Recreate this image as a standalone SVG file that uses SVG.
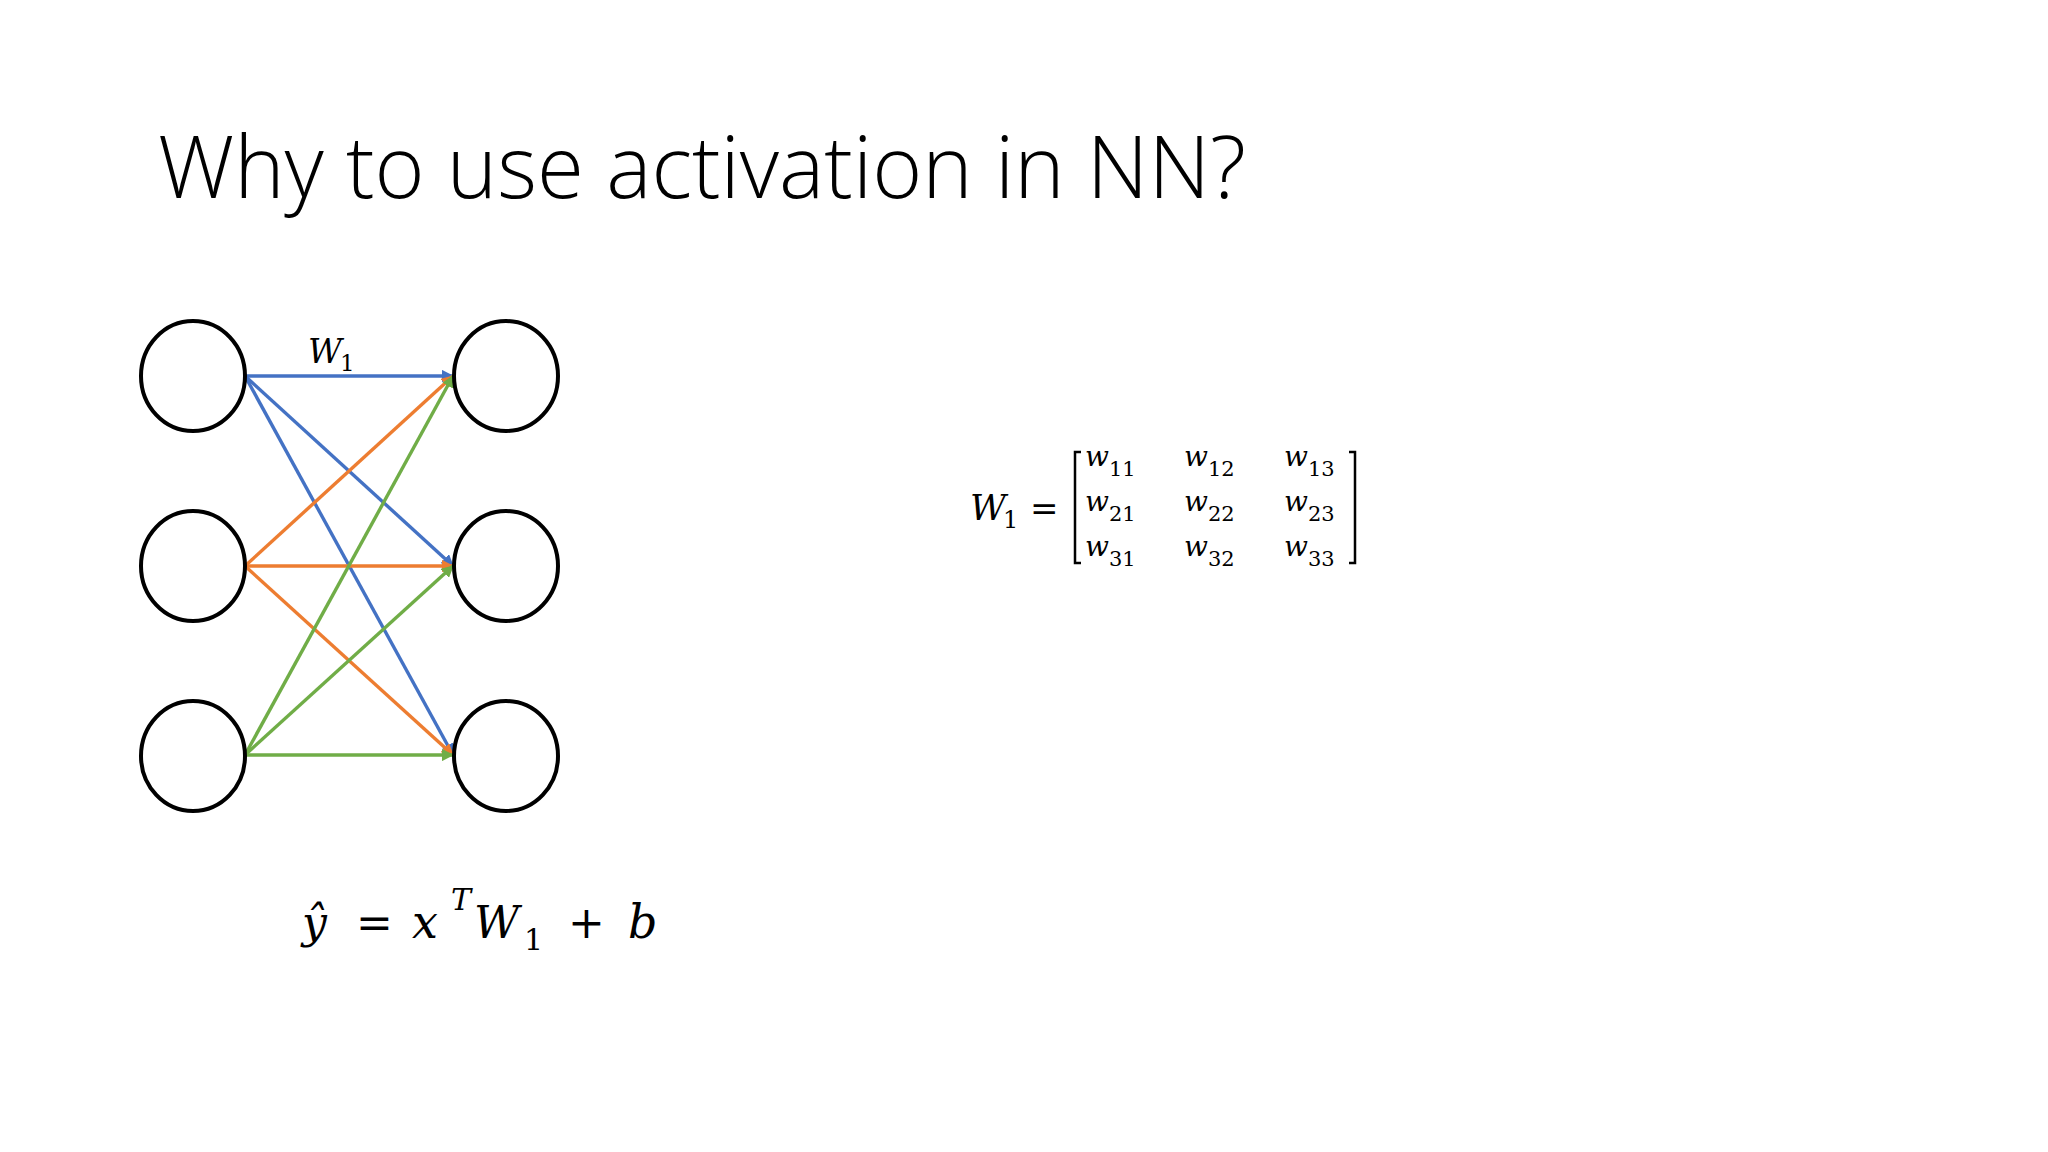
<svg xmlns="http://www.w3.org/2000/svg" width="2048" height="1152" viewBox="0 0 2048 1152">
<style>
.node{fill:none;stroke:#000;stroke-width:4}
.c{fill:none;stroke-width:3.4}
.b{stroke:#4472C4}.o{stroke:#ED7D31}.g{stroke:#70AD47}
.m{font-family:"DejaVu Serif",serif;font-style:italic;fill:#000}
.r{font-family:"DejaVu Serif",serif;font-style:normal;fill:#000}
.s{font-family:"DejaVu Serif",serif;font-size:21px;fill:#000}
.title{font-family:"Open Sans","Liberation Sans",sans-serif;font-weight:300;font-size:86px;fill:#000}
</style>
<defs>
<marker id="ab" viewBox="0 0 10 10" refX="9" refY="5" markerWidth="3.6" markerHeight="3.6" orient="auto" markerUnits="strokeWidth"><path d="M0,0 L10,5 L0,10 z" fill="#4472C4"/></marker>
<marker id="ao" viewBox="0 0 10 10" refX="9" refY="5" markerWidth="3.6" markerHeight="3.6" orient="auto" markerUnits="strokeWidth"><path d="M0,0 L10,5 L0,10 z" fill="#ED7D31"/></marker>
<marker id="ag" viewBox="0 0 10 10" refX="9" refY="5" markerWidth="3.6" markerHeight="3.6" orient="auto" markerUnits="strokeWidth"><path d="M0,0 L10,5 L0,10 z" fill="#70AD47"/></marker>
</defs>
<rect width="2048" height="1152" fill="#fff"/>
<text class="title" x="158" y="198" textLength="1088" lengthAdjust="spacingAndGlyphs">Why to use activation in NN?</text>

<g id="connectors">
<line class="c b" x1="245" y1="376" x2="453" y2="376" marker-end="url(#ab)"/>
<line class="c b" x1="245" y1="376" x2="453" y2="566" marker-end="url(#ab)"/>
<line class="c b" x1="245" y1="376" x2="453" y2="755" marker-end="url(#ab)"/>
<line class="c o" x1="245" y1="566" x2="453" y2="376" marker-end="url(#ao)"/>
<line class="c o" x1="245" y1="566" x2="453" y2="566" marker-end="url(#ao)"/>
<line class="c o" x1="245" y1="566" x2="453" y2="755" marker-end="url(#ao)"/>
<line class="c g" x1="245" y1="755" x2="453" y2="376" marker-end="url(#ag)"/>
<line class="c g" x1="245" y1="755" x2="453" y2="566" marker-end="url(#ag)"/>
<line class="c g" x1="245" y1="755" x2="453" y2="755" marker-end="url(#ag)"/>
</g>

<g id="in1"><ellipse class="node" cx="193" cy="376" rx="52" ry="55"/></g>
<g id="in2"><ellipse class="node" cx="193" cy="566" rx="52" ry="55"/></g>
<g id="in3"><ellipse class="node" cx="193" cy="756" rx="52" ry="55"/></g>
<g id="out1"><ellipse class="node" cx="506" cy="376" rx="52" ry="55"/></g>
<g id="out2"><ellipse class="node" cx="506" cy="566" rx="52" ry="55"/></g>
<g id="out3"><ellipse class="node" cx="506" cy="756" rx="52" ry="55"/></g>

<g id="label-w1">
<text class="m" x="308" y="363" font-size="33">W</text>
<text class="r" x="340" y="371" font-size="23">1</text>
</g>

<g id="matrix">
<text class="m" x="970" y="520" font-size="35">W</text>
<text class="r" x="1003" y="528" font-size="24">1</text>
<text class="r" x="1030" y="520" font-size="34">=</text>
<path d="M1081,452 L1075,452 L1075,563 L1081,563" fill="none" stroke="#000" stroke-width="2.5"/>
<path d="M1349,452 L1355,452 L1355,563 L1349,563" fill="none" stroke="#000" stroke-width="2.5"/>
<g font-size="28">
<text class="m" x="1085" y="466">w</text><text class="s" x="1109" y="476">11</text>
<text class="m" x="1184" y="466">w</text><text class="s" x="1208" y="476">12</text>
<text class="m" x="1284" y="466">w</text><text class="s" x="1308" y="476">13</text>
<text class="m" x="1085" y="511">w</text><text class="s" x="1109" y="521">21</text>
<text class="m" x="1184" y="511">w</text><text class="s" x="1208" y="521">22</text>
<text class="m" x="1284" y="511">w</text><text class="s" x="1308" y="521">23</text>
<text class="m" x="1085" y="556">w</text><text class="s" x="1109" y="566">31</text>
<text class="m" x="1184" y="556">w</text><text class="s" x="1208" y="566">32</text>
<text class="m" x="1284" y="556">w</text><text class="s" x="1308" y="566">33</text>
</g>
</g>

<g id="equation">
<text class="m" x="302" y="938" font-size="44">ŷ</text>
<text class="r" x="356" y="938" font-size="44">=</text>
<text class="m" x="412" y="938" font-size="46">x</text>
<text class="m" x="451" y="910" font-size="30">T</text>
<text class="m" x="474" y="938" font-size="44">W</text>
<text class="r" x="524" y="950" font-size="30">1</text>
<text class="r" x="568" y="938" font-size="44">+</text>
<text class="m" x="628" y="938" font-size="46">b</text>
</g>
</svg>
